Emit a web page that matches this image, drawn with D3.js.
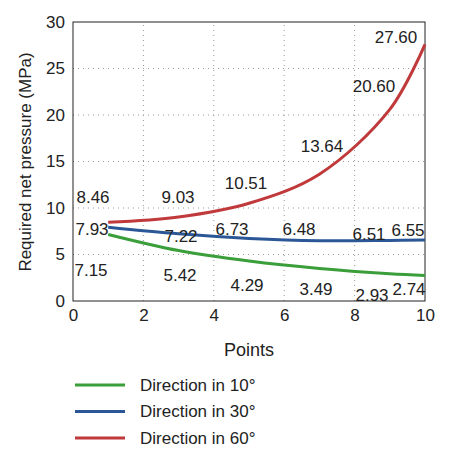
<!DOCTYPE html>
<html><head><meta charset="utf-8">
<script src="https://cdn.jsdelivr.net/npm/d3@7"></script>
<style>body{margin:0;background:#fff}text{font-family:"Liberation Sans",sans-serif}</style>
</head><body><svg id="chart" width="474" height="465"></svg>
<script>
const points = [1, 3, 5, 7, 9, 10];
const dir10 = [7.15, 5.42, 4.29, 3.49, 2.93, 2.74];
const dir30 = [7.93, 7.22, 6.73, 6.48, 6.51, 6.55];
const dir60 = [8.46, 9.03, 10.51, 13.64, 20.60, 27.60];
const xTicks = [0, 2, 4, 6, 8, 10];
const yTicks = [0, 5, 10, 15, 20, 25, 30];
const seriesNames = ["Direction in 10°", "Direction in 30°", "Direction in 60°"];

// label placement (pixels) - styling only
const labelPos = {
  red:   {x: [93, 178, 246, 322, 374, 396], y: [197, 197, 183, 146, 86, 37]},
  blue:  {x: [92, 181, 232, 299, 369, 408], y: [229, 236, 229, 229, 234, 230]},
  green: {x: [91, 180, 247, 316, 372, 409], y: [270, 275, 285, 289, 295, 289]}
};

const svg = d3.select("#chart");
const x = d3.scaleLinear().domain([0, 10]).range([73, 425]);
const y = d3.scaleLinear().domain([0, 30]).range([301, 22]);

// grid
svg.append("g").selectAll("line").data(xTicks.slice(1, -1)).join("line")
  .attr("x1", d => x(d)).attr("x2", d => x(d)).attr("y1", y(0)).attr("y2", y(30))
  .attr("stroke", "#999").attr("stroke-dasharray", "1,4");
svg.append("g").selectAll("line").data(yTicks.slice(1, -1)).join("line")
  .attr("x1", x(0)).attr("x2", x(10)).attr("y1", d => y(d)).attr("y2", d => y(d))
  .attr("stroke", "#999").attr("stroke-dasharray", "1,4");
svg.append("rect").attr("x", x(0)).attr("y", y(30))
  .attr("width", x(10) - x(0)).attr("height", y(0) - y(30))
  .attr("fill", "none").attr("stroke", "#222");

const xa = svg.append("g").attr("transform", `translate(0,${y(0)})`)
  .call(d3.axisBottom(x).tickValues(xTicks).tickSize(0).tickPadding(8));
const ya = svg.append("g").attr("transform", `translate(${x(0)},0)`)
  .call(d3.axisLeft(y).tickValues(yTicks).tickSize(0).tickPadding(8));
[xa, ya].forEach(a => {
  a.select(".domain").remove();
  a.selectAll("text").attr("font-size", 17).attr("fill", "#222")
    .style("font-family", "Liberation Sans");
});

svg.append("text").attr("x", 249).attr("y", 356).attr("text-anchor", "middle")
  .attr("font-size", 18).attr("fill", "#222").text("Points");
svg.append("text").attr("transform", "translate(31,162) rotate(-90)")
  .attr("text-anchor", "middle").attr("font-size", 17).attr("fill", "#222")
  .text("Required net pressure (MPa)");

const series = [
  {vals: dir10, color: "#3a9e3a", lab: labelPos.green},
  {vals: dir30, color: "#2b5797", lab: labelPos.blue},
  {vals: dir60, color: "#c0393b", lab: labelPos.red}
];
const line = d3.line().x(d => x(d[0])).y(d => y(d[1])).curve(d3.curveCatmullRom);
series.forEach(s => {
  svg.append("path").datum(points.map((p, i) => [p, s.vals[i]]))
    .attr("d", line).attr("fill", "none").attr("stroke", s.color).attr("stroke-width", 3);
});
series.forEach(s => {
  svg.append("g").selectAll("text").data(s.vals).join("text")
    .attr("x", (d, i) => s.lab.x[i]).attr("y", (d, i) => s.lab.y[i])
    .attr("text-anchor", "middle").attr("dominant-baseline", "central")
    .attr("font-size", 17).attr("fill", "#222").text(d => d.toFixed(2));
});

// legend
const lg = svg.append("g").selectAll("g").data(series).join("g")
  .attr("transform", (d, i) => `translate(75,${385 + i * 26.5})`);
lg.append("line").attr("x1", 0).attr("x2", 50)
  .attr("stroke", d => d.color).attr("stroke-width", 3);
lg.append("text").attr("x", 65).attr("dominant-baseline", "central")
  .attr("font-size", 17).attr("fill", "#222").text((d, i) => seriesNames[i]);
</script></body></html>
